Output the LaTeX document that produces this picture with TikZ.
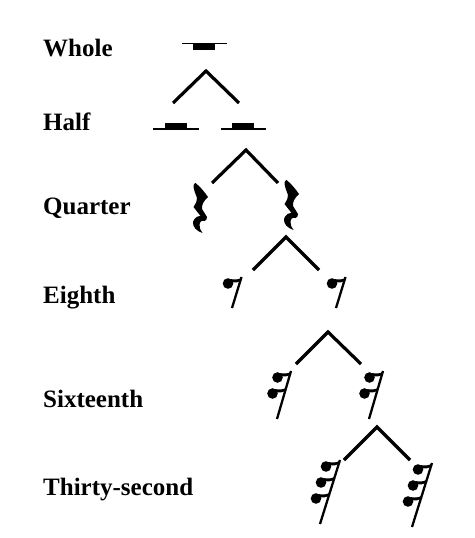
\documentclass[tikz,border=0pt]{standalone}
\usepackage{fontspec}
\setmainfont{Liberation Serif}
\newcommand\rflag[2]{%
  \fill (#1-12.5,#2+2.5) circle[radius=5.3pt];
  \fill (#1-10,#2-2) .. controls (#1-6,#2-1.2) and (#1-3,#2-1.2) .. (#1+1,#2-3)
        -- (#1+0.5,#2) .. controls (#1-2.5,#2+1.2) and (#1-5,#2+1.8) .. (#1-8,#2+1.5) -- cycle;}
\newcommand\qrest[2]{%
  \fill[shift={(#1,#2)}] (4,0) .. controls (9,4) and (13,9) .. (16.5,14)
     .. controls (12,18) and (10,22) .. (10.5,26)
     -- (15.5,34) .. controls (15.5,36) and (14.5,38) .. (13,38)
     .. controls (10,37) and (8,39) .. (8,42)
     .. controls (8,45) and (9,47.5) .. (11,50)
     .. controls (5,48) and (1,44) .. (1.5,39)
     .. controls (2.5,35) and (6,33) .. (9,33)
     -- (2,24) .. controls (4,21) and (6,18) .. (5.5,15)
     .. controls (4,11) and (2,6) .. (2,3)
     .. controls (2,1.5) and (3,0.3) .. (4,0) -- cycle;}
\begin{document}
\begin{tikzpicture}[x=1pt,y=-1pt,
  chev/.style={line width=3.2pt},
  stem/.style={line width=2.3pt},
  ledger/.style={line width=1.8pt},
  lbl/.style={anchor=base west,inner sep=0pt,font=\fontsize{25}{25}\selectfont\bfseries}]
\useasboundingbox (0,0) rectangle (474,538);
% labels
\node[lbl] (whole) at (43,56) {Whole};
\node[lbl] (half) at (43,130) {Half};
\node[lbl] (quarter) at (43,214) {Quarter};
\node[lbl] (eighth) at (43,303) {Eighth};
\node[lbl] (sixteenth) at (43,407) {Sixteenth};
\node[lbl] (thirty) at (43,495) {Thirty-second};
% whole rest
\draw[ledger] (182,43.5) -- (227,43.5);
\fill (193,43) rectangle (215,50);
% half rests
\draw[ledger] (153,129) -- (199,129);
\fill (165,122.5) rectangle (187,129);
\draw[ledger] (221,129) -- (266,129);
\fill (232,122.5) rectangle (254,129);
% quarter rests
\qrest{191.5}{183}
\qrest{282.5}{180}
% eighth rests
\draw[stem] (241.5,277) -- (232,308);
\rflag{240.5}{281}
\draw[stem] (345.5,277) -- (336,308);
\rflag{344.5}{281}
% sixteenth rests
\draw[stem] (291,371) -- (277,419);
\rflag{290}{375}\rflag{285}{391}
\draw[stem] (383,371) -- (369,419);
\rflag{382}{375}\rflag{377}{391}
% thirty-second rests
\draw[stem] (340,460) -- (320,524);
\rflag{338.5}{464}\rflag{333.5}{480}\rflag{328.5}{496}
\draw[stem] (432,463) -- (412,527);
\rflag{430.5}{467}\rflag{425.5}{483}\rflag{420.5}{499}
% chevrons
\coordinate (a1) at (173,103); \coordinate (t1) at (206,71); \coordinate (b1) at (239,103);
\coordinate (a2) at (212,183); \coordinate (t2) at (246,150); \coordinate (b2) at (278,183);
\coordinate (a3) at (253,270); \coordinate (t3) at (286,237); \coordinate (b3) at (319,270);
\coordinate (a4) at (296,364); \coordinate (t4) at (328,332); \coordinate (b4) at (361,364);
\coordinate (a5) at (344,460); \coordinate (t5) at (377,427); \coordinate (b5) at (410,460);
\foreach \i in {1,...,5} \draw[chev] (a\i) -- (t\i) -- (b\i);
\end{tikzpicture}
\end{document}
